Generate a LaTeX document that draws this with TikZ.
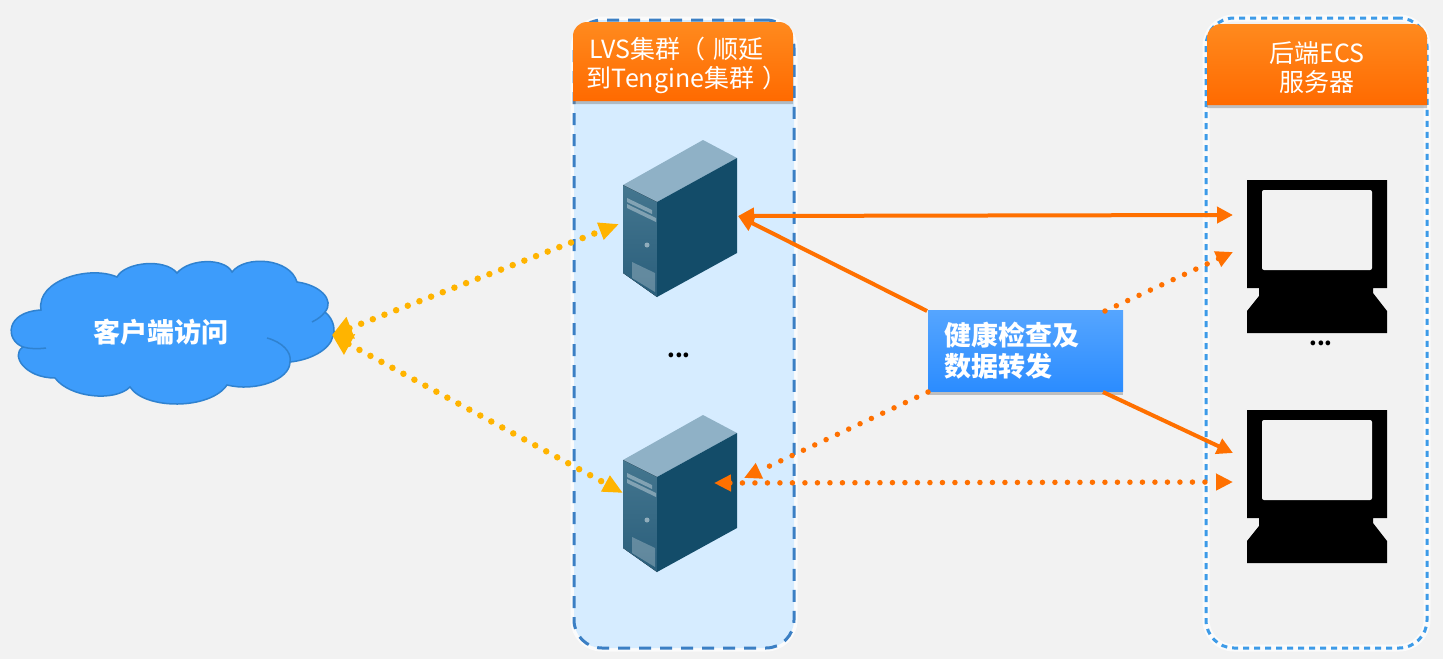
\documentclass[tikz,border=0pt]{standalone}
\usepackage{fontspec}
\setmainfont{Noto Sans CJK SC}
\usetikzlibrary{arrows.meta,shadows}
\definecolor{bgc}{HTML}{F2F2F2}
\definecolor{orangeline}{HTML}{FF7000}
\definecolor{orangetop}{HTML}{FF8A1E}
\definecolor{orangebot}{HTML}{FF6A00}
\definecolor{yellowline}{HTML}{FFB400}
\definecolor{cloudblue}{HTML}{3D9CFB}
\definecolor{cloudedge}{HTML}{2F82D0}
\definecolor{lvsfill}{HTML}{D6ECFF}
\definecolor{lvsdash}{HTML}{3B7FC4}
\definecolor{ecsdash}{HTML}{3D9BE8}
\definecolor{boxtop}{HTML}{55A5FF}
\definecolor{boxbot}{HTML}{2B8CFF}
\definecolor{srvtop}{HTML}{8FB1C6}
\definecolor{srvlefta}{HTML}{44768F}
\definecolor{srvleftb}{HTML}{2A5E7B}
\definecolor{srvright}{HTML}{134C69}
\tikzset{
  x=1pt,y=-1pt,
  halo/.style={draw=white,line width=7pt,opacity=.7,rounded corners=28pt},
  lvspanel/.style={draw=lvsdash,line width=3pt,dash pattern=on 12pt off 9pt,rounded corners=28pt,inner sep=0pt},
  ecspanel/.style={draw=ecsdash,line width=3pt,dash pattern=on 6pt off 5pt,rounded corners=28pt,inner sep=0pt},
  head/.style={top color=orangetop,bottom color=orangebot,drop shadow={shadow xshift=0pt,shadow yshift=-3pt,opacity=.45}},
  headtext/.style={text=white,font=\fontsize{25}{30}\selectfont,align=center,inner sep=0pt},
  solidarrow/.style={draw=orangeline,line width=4pt,-{Triangle[length=16pt,width=16pt]}},
  solidboth/.style={solidarrow,{Triangle[length=16pt,width=16pt]}-{Triangle[length=16pt,width=16pt]}},
  dotline/.style={line width=#1,line cap=round,dash pattern=on 0pt off 12.5pt},
  dotarrow/.style={draw=orangeline,dotline=5.5pt,-{Triangle[length=17pt,width=16pt]}},
  dotboth/.style={dotarrow,{Triangle[length=17pt,width=16pt]}-{Triangle[length=17pt,width=16pt]}},
  yellowarrow/.style={draw=yellowline,dotline=6.5pt,{Triangle[length=20pt,width=22pt]}-{Triangle[length=20pt,width=17pt]}},
  pics/server/.style={code={
    \fill[srvtop] (623,185) -- (703,140) -- (737,158) -- (657,202) -- cycle;
    \fill[top color=srvlefta,bottom color=srvleftb] (623,185) -- (657,202) -- (657,297) -- (623,273) -- cycle;
    \fill[srvright] (657,202) -- (737,158) -- (737,253) -- (657,297) -- cycle;
    \fill[white,opacity=.35] (627,198) -- (652,210) -- (652,214) -- (627,202) -- cycle;
    \fill[white,opacity=.35] (627,204) -- (656,218) -- (656,222) -- (627,208) -- cycle;
    \fill[white,opacity=.25] (632,262) -- (655,273) -- (655,292) -- (632,278) -- cycle;
    \fill[white,opacity=.45] (647,245) circle (2.5);
  }},
  pics/monitor/.style={code={
    \fill[black] (1247,180) -- (1387,180) -- (1387,288) -- (1373,288) -- (1373,293) -- (1387,311) -- (1387,333)
      -- (1247,333) -- (1247,311) -- (1259,296) -- (1259,288) -- (1247,288) -- cycle;
    \fill[bgc,rounded corners=2pt] (1262,190) rectangle (1372,270);
  }}
}
\begin{document}
\begin{tikzpicture}
  \useasboundingbox (0,0) rectangle (1443,659);
  \fill[bgc] (0,0) rectangle (1443,659);

  % panels
  \draw[halo,fill=white] (574,20) rectangle (794,648);
  \draw[halo] (1206,18) rectangle (1427,648);
  \node[lvspanel,fill=lvsfill,minimum width=220pt,minimum height=628pt] (lvs) at (684,334) {};
  \node[ecspanel,minimum width=221pt,minimum height=630pt] (ecs) at (1316.5,333) {};
  \path[head] (573,101) [rounded corners=14pt] -- (573,22) -- (793,22) [sharp corners] -- (793,101) -- cycle;
  \path[head] (1207,105) [rounded corners=14pt] -- (1207,24) -- (1427,24) [sharp corners] -- (1427,105) -- cycle;
  \node[headtext,align=left] (lvshead) at (687,65) {\hspace*{3pt}LVS集群（\hspace{8pt}顺延\\[-1pt]到Tengine集群\hspace{8pt}）};
  \node[headtext] (ecshead) at (1317,68) {后端ECS\\[-1pt]服务器};

  % servers and monitors
  \pic {server};
  \pic at (0,275) {server};
  \pic {monitor};
  \pic at (0,230) {monitor};
  \node[font=\bfseries\fontsize{22}{22}\selectfont,inner sep=0pt] (dots1) at (679,355) {...};
  \node[font=\bfseries\fontsize{22}{22}\selectfont,inner sep=0pt] (dots2) at (1321,343) {...};

  % cloud
  \path[fill=cloudblue,draw=cloudedge,line width=1.5pt]
    (41,310) .. controls (36,280) and (90,265) .. (117,277)
    .. controls (125,262) and (165,258) .. (177,273)
    .. controls (190,258) and (225,258) .. (232,272)
    .. controls (245,255) and (290,258) .. (297,282)
    .. controls (320,285) and (335,300) .. (325,312)
    .. controls (335,320) and (335,332) .. (333,336)
    .. controls (330,350) and (310,360) .. (290,362)
    .. controls (290,380) and (255,392) .. (227,385)
    .. controls (210,410) and (145,410) .. (130,387)
    .. controls (115,402) and (70,398) .. (55,378)
    .. controls (25,378) and (10,355) .. (23,347)
    .. controls (5,340) and (5,312) .. (41,310) -- cycle;
  \draw[cloudedge,line width=1.5pt] (23,347) .. controls (30,349) and (38,349) .. (46,348);
  \draw[cloudedge,line width=1.5pt] (325,312) .. controls (322,316) and (318,319) .. (312,322);
  \draw[cloudedge,line width=1.5pt] (267,338) .. controls (282,342) and (292,352) .. (290,362);
  \node[text=white,font=\bfseries\fontsize{27}{27}\selectfont,inner sep=0pt] (client) at (161,332) {客户端访问};

  % label box
  \node[top color=boxtop,bottom color=boxbot,minimum width=195pt,minimum height=81pt,
    inner sep=0pt,text width=162pt,align=left,text=white,font=\bfseries\fontsize{27}{31}\selectfont,
    drop shadow={shadow xshift=0pt,shadow yshift=-3pt,opacity=.45}] (box) at (1025.5,351) {健康检查及\\数据转发};

  % end points of the connectors
  \coordinate (cl) at (332,335);
  \coordinate (srvaY) at (619,224);
  \coordinate (srvbY) at (623,493);
  \coordinate (srvaR) at (738,216);
  \coordinate (monaR) at (1233,215);
  \coordinate (monaD) at (1233,252);
  \coordinate (srvbD) at (744,478);
  \coordinate (srvbR) at (714,483);
  \coordinate (monbR) at (1233,482);
  \coordinate (monbS) at (1233,453);
  \coordinate (boxnw) at (927,311);
  \coordinate (boxne) at (1105,311);
  \coordinate (boxsw) at (928,392);
  \coordinate (boxse) at (1103,392);

  \draw[yellowarrow] (cl) -- (srvaY);
  \draw[yellowarrow] (cl) -- (srvbY);
  \draw[solidboth] (srvaR) -- (monaR);
  \draw[solidarrow,{Triangle[length=16pt,width=16pt]}-] (srvaR) -- (boxnw);
  \draw[solidarrow] (boxse) -- (monbS);
  \draw[dotarrow] (boxne) -- (monaD);
  \draw[dotarrow] (boxsw) -- (srvbD);
  \draw[dotboth] (srvbR) -- (monbR);
\end{tikzpicture}
\end{document}
